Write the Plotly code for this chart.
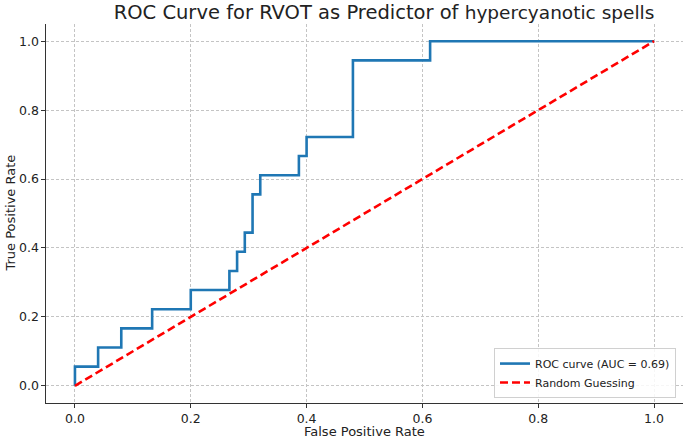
import plotly.graph_objects as go

# ROC curve corner points
fpr = [0.0, 0.0, 0.04, 0.04, 0.08, 0.08, 0.1333, 0.1333, 0.2, 0.2, 0.2667, 0.2667,
       0.28, 0.28, 0.2933, 0.2933, 0.3067, 0.3067, 0.32, 0.32, 0.3867, 0.3867,
       0.4, 0.4, 0.48, 0.48, 0.6133, 0.6133, 1.0]
tpr = [0.0, 0.0556, 0.0556, 0.1111, 0.1111, 0.1667, 0.1667, 0.2222, 0.2222, 0.2778,
       0.2778, 0.3333, 0.3333, 0.3889, 0.3889, 0.4444, 0.4444, 0.5556, 0.5556, 0.6111,
       0.6111, 0.6667, 0.6667, 0.7222, 0.7222, 0.9444, 0.9444, 1.0, 1.0]
diag_x = [0.0, 1.0]
diag_y = [0.0, 1.0]
auc_label = "ROC curve (AUC = 0.69)"
tick_vals = [0.0, 0.2, 0.4, 0.6, 0.8, 1.0]
tick_text = ["0.0", "0.2", "0.4", "0.6", "0.8", "1.0"]

FONT = "DejaVu Sans"
W, H = 685, 441
ML, MR, MT, MB = 46, 2, 24, 38

fig = go.Figure()
fig.add_trace(go.Scatter(x=fpr, y=tpr, mode="lines", name=auc_label,
                         line=dict(color="#1f77b4", width=2.6)))
fig.add_trace(go.Scatter(x=diag_x, y=diag_y, mode="lines", name="Random Guessing",
                         line=dict(color="red", width=2.6, dash="8px,4px")))

axis_common = dict(
    tickvals=tick_vals, ticktext=tick_text, automargin=False,
    showgrid=True, gridcolor="#c4c4c4", griddash="3px,2px", gridwidth=1,
    zeroline=False, ticks="outside", ticklen=3.5, tickwidth=1, tickcolor="#333",
    showline=True, linecolor="#333", linewidth=1.3,
    tickfont=dict(family=FONT, size=12.5, color="#222"),
)

title_html = ("<span style='font-size:19.5px'>ROC Curve for RVOT as Predictor of </span>"
              "<span style='font-size:18.5px'>hypercyanotic spells</span>")

fig.update_layout(
    width=W, height=H,
    margin=dict(l=ML, r=MR, t=MT, b=MB),
    paper_bgcolor="white", plot_bgcolor="white",
    font=dict(family=FONT, color="#222"),
    title=dict(text=title_html, x=384 / W, xanchor="center",
               y=1 - 13 / H, yanchor="middle",
               font=dict(family=FONT, size=18.5, color="#222")),
    xaxis=dict(range=[-0.05, 1.05], **axis_common),
    yaxis=dict(range=[-0.05, 1.05], **axis_common),
    legend=dict(x=0.989, y=0.013, xanchor="right", yanchor="bottom",
                bgcolor="rgba(255,255,255,0.85)", bordercolor="#d0d0d0", borderwidth=1,
                font=dict(family=FONT, size=11, color="#222"),
                itemwidth=30, tracegroupgap=0),
    showlegend=True,
    annotations=[
        dict(text="False Positive Rate", xref="paper", yref="paper", x=0.5, y=0,
             xanchor="center", yanchor="middle", yshift=-28, showarrow=False,
             font=dict(family=FONT, size=13, color="#222")),
        dict(text="True Positive Rate", xref="paper", yref="paper", x=0, y=0.5,
             xanchor="center", yanchor="middle", xshift=-36, textangle=-90,
             showarrow=False, font=dict(family=FONT, size=13, color="#222")),
    ],
)

fig.write_html("out.html", config={"displayModeBar": False},
               post_script="document.body.style.margin='0px';document.body.style.overflow='hidden';")
